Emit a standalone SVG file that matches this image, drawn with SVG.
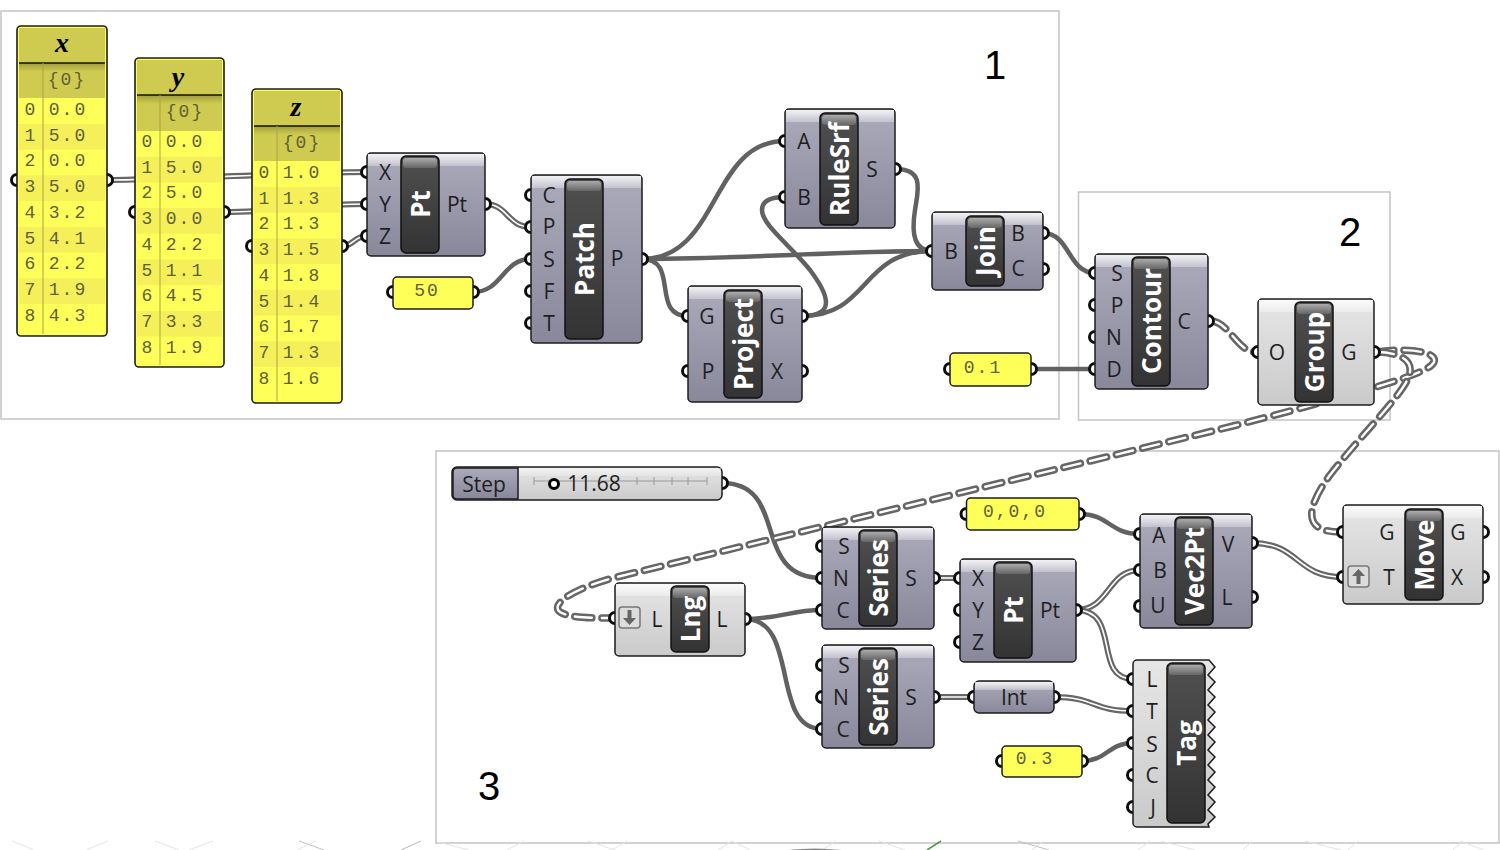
<svg xmlns="http://www.w3.org/2000/svg" width="1500" height="850" viewBox="0 0 1500 850">
<style>
text{font-family:"Open Sans","Liberation Sans",sans-serif;dominant-baseline:central;text-anchor:middle}
.frame{fill:none;stroke:#c4c4c4;stroke-width:1.5}
.bg{stroke:#e4e4e4;stroke-width:1;fill:none}
.big{font-family:"Liberation Sans",sans-serif;font-size:40px;fill:#000}
.body{fill:url(#gBody);stroke:#1c1c1c;stroke-width:1.5}
.light{fill:url(#gLight);stroke:#1c1c1c;stroke-width:1.5}
.cap{fill:url(#gCap);stroke:#111;stroke-width:1.5}
.hl{fill:url(#gHl)}
.caphl{fill:url(#gCapHl)}
.p{fill:#fff;stroke:#0c0c0c;stroke-width:3}
.l{font-size:21px;fill:#1e1e22}
.t{font-size:26px;font-weight:700;fill:#fff}
.num{fill:#ffff5a;stroke:#1c1c1c;stroke-width:1.5}
.m{font-family:"Liberation Mono",monospace;font-size:18px;letter-spacing:2px;fill:#60603a;transform:translateY(1px)}
.tb{fill:#ffff5a;stroke:#1c1c1c;stroke-width:1.6}
.hd{fill:#cfcb50}
.band{fill:url(#gBand)}
.st{fill:#f5f05a}
.dv{stroke:#a8a640;stroke-width:1}
.hr{stroke:#111;stroke-width:1.6}
.ti{font-family:"Liberation Serif",serif;font-weight:700;font-style:italic;font-size:28px;fill:#000;transform:translateY(-2px)}
.w{fill:none;stroke:#616161;stroke-width:4.5;stroke-linecap:round}
.d1{fill:none;stroke:#666;stroke-width:6}
.d2{fill:none;stroke:#fff;stroke-width:1.6}
.a1{fill:none;stroke:#666;stroke-width:7.5;stroke-linecap:round;stroke-dasharray:17 10}
.a2{fill:none;stroke:#fff;stroke-width:2.4;stroke-linecap:round;stroke-dasharray:17 10}
.ic{fill:#dcdcdc;stroke:#777;stroke-width:1.5}
.ar{fill:#666}
</style>
<defs>
<linearGradient id="gBody" x1="0" y1="0" x2="0" y2="1"><stop offset="0" stop-color="#acabbc"/><stop offset="1" stop-color="#88889a"/></linearGradient>
<linearGradient id="gLight" x1="0" y1="0" x2="0" y2="1"><stop offset="0" stop-color="#e6e6e6"/><stop offset="1" stop-color="#cacaca"/></linearGradient>
<linearGradient id="gCap" x1="0" y1="0" x2="0" y2="1"><stop offset="0" stop-color="#505050"/><stop offset="1" stop-color="#333"/></linearGradient>
<linearGradient id="gHl" x1="0" y1="0" x2="0" y2="1"><stop offset="0" stop-color="#fff" stop-opacity=".85"/><stop offset="1" stop-color="#fff" stop-opacity=".3"/></linearGradient>
<linearGradient id="gCapHl" x1="0" y1="0" x2="0" y2="1"><stop offset="0" stop-color="#aaa"/><stop offset="1" stop-color="#666"/></linearGradient>
<linearGradient id="gBand" x1="0" y1="0" x2="0" y2="1"><stop offset="0" stop-color="#a09d3c"/><stop offset=".25" stop-color="#cfcb50"/><stop offset="1" stop-color="#cfcb50"/></linearGradient>
</defs>

<g id="frames">
<rect class="frame" x="1" y="11" width="1058" height="408"/>
<rect class="frame" x="1078.500" y="192" width="311.500" height="228"/>
<rect class="frame" x="436" y="451" width="1063" height="392"/>
<text class="big" x="995" y="65">1</text>
<text class="big" x="1350" y="232">2</text>
<text class="big" x="489" y="786">3</text>
<path class="bg" d="M12 841L34 850M86 850L108 841M155 841L179 850M189 850L213 841M297 850L316 841M401 850L421 841M438 842L469 850M507 850L524 841M588 841L615 850M612 850L627 841M718 850L732 841M732 841L750 850M822 850L836 841M879 841L905 850M1032 850L1044 841M1138 850L1150 841M1161 841L1195 850M1243 850L1252 841M1305 841L1341 850M1348 850L1358 841M1453 850L1463 841M1460 841L1484 850"/>
<path d="M299 841L324 850M1018 841L1049 850M401 850L421 841" fill="none" stroke="#c0c0c0"/>
<path d="M927 850L941 841" fill="none" stroke="#4a9a4a" stroke-width="1.5"/>
<path d="M788 850Q815 847 841 850Z" fill="#8a8a8a"/>
</g>

<g id="connectors">
<g>
<path class="d1" d="M107 180C170 180 300 172 367 172"/><path class="d2" d="M107 180C170 180 300 172 367 172"/>
<path class="d1" d="M224 212C280 212 310 204 367 204"/><path class="d2" d="M224 212C280 212 310 204 367 204"/>
<path class="d1" d="M342 246C354 246 354 236 367 236"/><path class="d2" d="M342 246C354 246 354 236 367 236"/>
<path class="d1" d="M485 204C508 204 507 227 531 227"/><path class="d2" d="M485 204C508 204 507 227 531 227"/>
<path class="d1" d="M934 578H960"/><path class="d2" d="M934 578H960"/>
<path class="d1" d="M934 697H974"/><path class="d2" d="M934 697H974"/>
<path class="d1" d="M1054 697C1095 697 1092 711 1133 711"/><path class="d2" d="M1054 697C1095 697 1092 711 1133 711"/>
<path class="d1" d="M1076 610C1110 610 1107 570 1140 570"/><path class="d2" d="M1076 610C1110 610 1107 570 1140 570"/>
<path class="d1" d="M1076 610C1122 610 1092 679 1133 679"/><path class="d2" d="M1076 610C1122 610 1092 679 1133 679"/>
<path class="d1" d="M1252 543C1300 543 1295 577 1343 577"/><path class="d2" d="M1252 543C1300 543 1295 577 1343 577"/>
</g>
<g>
<path class="w" d="M473 292C503 292 502 259 531 259"/>
<path class="w" d="M642 259C720 259 710 141 785 141"/>
<path class="w" d="M642 259C740 259 840 251 932 251"/>
<path class="w" d="M642 259C680 259 650 316 688 316"/>
<path class="w" d="M802 316C870 316 860 251 932 251"/>
<path class="w" d="M802 316C840 316 825 290 810 270C790 245 762 225 762 210C762 200 772 197 785 197"/>
<path class="w" d="M895 169C925 169 918 190 915 210C911 235 915 251 932 251"/>
<path class="w" d="M1043 233C1070 233 1068 273 1095 273"/>
<path class="w" d="M1031 369H1095"/>
<path class="w" d="M745 619C780 619 790 610 822 610"/>
<path class="w" d="M745 619C800 619 770 729 822 729"/>
<path class="w" d="M722 483C790 483 750 578 822 578"/>
<path class="w" d="M1079 514C1110 514 1109 534 1140 534"/>
<path class="w" d="M1082 761C1107 761 1108 743 1133 743"/>
</g>
<g>
<path class="a1" d="M1211 321C1228 321 1238 352 1255 352"/><path class="a2" d="M1211 321C1228 321 1238 352 1255 352"/>
<path class="a1" d="M1377 352C1400 348 1438 350 1434 362C1430 372 1390 385 1237 425L613 578C570 590 550 605 560 612C570 618 590 618 612 618"/>
<path class="a2" d="M1377 352C1400 348 1438 350 1434 362C1430 372 1390 385 1237 425L613 578C570 590 550 605 560 612C570 618 590 618 612 618"/>
<path class="a1" d="M1377 352C1395 352 1412 358 1410 372C1408 390 1365 430 1330 475C1308 505 1300 532 1340 532"/>
<path class="a2" d="M1377 352C1395 352 1412 358 1410 372C1408 390 1365 430 1330 475C1308 505 1300 532 1340 532"/>
</g>
</g>

<g id="table-x">
<circle class="p" cx="17" cy="180" r="5.500"/><circle class="p" cx="107" cy="180" r="5.500"/>
<rect class="tb" x="17" y="26" width="90" height="310" rx="4"/>
<rect class="hd" x="19" y="28" width="86" height="35"/>
<rect class="band" x="19" y="63" width="86" height="35"/>
<rect class="st" x="19" y="124" width="86" height="25.700"/><rect class="st" x="19" y="175.400" width="86" height="25.700"/><rect class="st" x="19" y="226.800" width="86" height="25.700"/><rect class="st" x="19" y="278.200" width="86" height="25.700"/>
<line class="hr" x1="19" y1="63" x2="105" y2="63"/><line class="dv" x1="43" y1="63" x2="43" y2="334"/>
<text class="ti" x="62" y="44">x</text>
<text class="m" x="67" y="79">{0}</text>
<g><text class="m" x="31" y="109">0</text><text class="m" x="68" y="109">0.0</text><text class="m" x="31" y="135">1</text><text class="m" x="68" y="135">5.0</text><text class="m" x="31" y="160">2</text><text class="m" x="68" y="160">0.0</text><text class="m" x="31" y="186">3</text><text class="m" x="68" y="186">5.0</text><text class="m" x="31" y="212">4</text><text class="m" x="68" y="212">3.2</text><text class="m" x="31" y="238">5</text><text class="m" x="68" y="238">4.1</text><text class="m" x="31" y="263">6</text><text class="m" x="68" y="263">2.2</text><text class="m" x="31" y="289">7</text><text class="m" x="68" y="289">1.9</text><text class="m" x="31" y="315">8</text><text class="m" x="68" y="315">4.3</text></g>
</g>

<g id="table-y">
<circle class="p" cx="135" cy="212" r="5.500"/><circle class="p" cx="224" cy="212" r="5.500"/>
<rect class="tb" x="135" y="58" width="89" height="309" rx="4"/>
<rect class="hd" x="137" y="60" width="85" height="35"/>
<rect class="band" x="137" y="95" width="85" height="36"/>
<rect class="st" x="137" y="156.700" width="85" height="25.700"/><rect class="st" x="137" y="208.100" width="85" height="25.700"/><rect class="st" x="137" y="259.500" width="85" height="25.700"/><rect class="st" x="137" y="310.900" width="85" height="25.700"/>
<line class="hr" x1="137" y1="95" x2="222" y2="95"/><line class="dv" x1="160" y1="95" x2="160" y2="365"/>
<text class="ti" x="178" y="78">y</text>
<text class="m" x="185" y="111">{0}</text>
<g><text class="m" x="148" y="141">0</text><text class="m" x="185" y="141">0.0</text><text class="m" x="148" y="167">1</text><text class="m" x="185" y="167">5.0</text><text class="m" x="148" y="192">2</text><text class="m" x="185" y="192">5.0</text><text class="m" x="148" y="218">3</text><text class="m" x="185" y="218">0.0</text><text class="m" x="148" y="244">4</text><text class="m" x="185" y="244">2.2</text><text class="m" x="148" y="270">5</text><text class="m" x="185" y="270">1.1</text><text class="m" x="148" y="295">6</text><text class="m" x="185" y="295">4.5</text><text class="m" x="148" y="321">7</text><text class="m" x="185" y="321">3.3</text><text class="m" x="148" y="347">8</text><text class="m" x="185" y="347">1.9</text></g>
</g>

<g id="table-z">
<circle class="p" cx="252" cy="246" r="5.500"/><circle class="p" cx="342" cy="246" r="5.500"/>
<rect class="tb" x="252" y="89" width="90" height="314" rx="4"/>
<rect class="hd" x="254" y="91" width="86" height="35"/>
<rect class="band" x="254" y="126" width="86" height="35"/>
<rect class="st" x="254" y="187" width="86" height="25.700"/><rect class="st" x="254" y="238.400" width="86" height="25.700"/><rect class="st" x="254" y="289.800" width="86" height="25.700"/><rect class="st" x="254" y="341.200" width="86" height="25.700"/>
<line class="hr" x1="254" y1="126" x2="340" y2="126"/><line class="dv" x1="277" y1="126" x2="277" y2="401"/>
<text class="ti" x="296" y="108">z</text>
<text class="m" x="302" y="142">{0}</text>
<g><text class="m" x="265" y="172">0</text><text class="m" x="302" y="172">1.0</text><text class="m" x="265" y="198">1</text><text class="m" x="302" y="198">1.3</text><text class="m" x="265" y="223">2</text><text class="m" x="302" y="223">1.3</text><text class="m" x="265" y="249">3</text><text class="m" x="302" y="249">1.5</text><text class="m" x="265" y="275">4</text><text class="m" x="302" y="275">1.8</text><text class="m" x="265" y="301">5</text><text class="m" x="302" y="301">1.4</text><text class="m" x="265" y="326">6</text><text class="m" x="302" y="326">1.7</text><text class="m" x="265" y="352">7</text><text class="m" x="302" y="352">1.3</text><text class="m" x="265" y="378">8</text><text class="m" x="302" y="378">1.6</text></g>
</g>

<g id="pt1">
<circle class="p" cx="367" cy="172" r="5.500"/><circle class="p" cx="367" cy="204" r="5.500"/><circle class="p" cx="367" cy="236" r="5.500"/><circle class="p" cx="485" cy="204" r="5.500"/>
<rect class="body" x="367" y="153" width="118" height="103" rx="4"/><rect class="hl" x="368" y="154" width="116" height="12"/>
<rect class="cap" x="401" y="156" width="38" height="97" rx="5"/><rect class="caphl" x="403" y="158" width="34" height="10" rx="3"/>
<text class="t" transform="rotate(-90 420 204)" x="420" y="204">Pt</text>
<text class="l" x="385" y="172">X</text><text class="l" x="385" y="204">Y</text><text class="l" x="385" y="236">Z</text><text class="l" x="457" y="204">Pt</text>
</g>

<g id="patch">
<circle class="p" cx="531" cy="195" r="5.500"/><circle class="p" cx="531" cy="227" r="5.500"/><circle class="p" cx="531" cy="259" r="5.500"/><circle class="p" cx="531" cy="291" r="5.500"/><circle class="p" cx="531" cy="323" r="5.500"/><circle class="p" cx="642" cy="259" r="5.500"/>
<rect class="body" x="531" y="175" width="111" height="168" rx="4"/><rect class="hl" x="532" y="176" width="109" height="12"/>
<rect class="cap" x="565" y="179" width="38" height="160" rx="5"/><rect class="caphl" x="567" y="181" width="34" height="10" rx="3"/>
<text class="t" transform="rotate(-90 584 259)" x="584" y="259">Patch</text>
<text class="l" x="549" y="195">C</text><text class="l" x="549" y="226">P</text><text class="l" x="549" y="259">S</text><text class="l" x="549" y="291">F</text><text class="l" x="549" y="323">T</text><text class="l" x="617" y="258">P</text>
</g>

<g id="num-50">
<circle class="p" cx="393" cy="292" r="5.500"/><circle class="p" cx="473" cy="292" r="5.500"/>
<rect class="num" x="393" y="277" width="80" height="32" rx="4"/>
<text class="m" x="427" y="290">50</text>
</g>

<g id="project">
<circle class="p" cx="688" cy="316" r="5.500"/><circle class="p" cx="688" cy="371" r="5.500"/><circle class="p" cx="802" cy="316" r="5.500"/><circle class="p" cx="802" cy="371" r="5.500"/>
<rect class="body" x="688" y="286" width="114" height="116" rx="4"/><rect class="hl" x="689" y="287" width="112" height="12"/>
<rect class="cap" x="724" y="290" width="38" height="108" rx="5"/><rect class="caphl" x="726" y="292" width="34" height="10" rx="3"/>
<text class="t" transform="rotate(-90 743 344)" x="743" y="344">Project</text>
<text class="l" x="707" y="316">G</text><text class="l" x="708" y="371">P</text><text class="l" x="777" y="316">G</text><text class="l" x="777" y="371">X</text>
</g>

<g id="rulesrf">
<circle class="p" cx="785" cy="141" r="5.500"/><circle class="p" cx="785" cy="197" r="5.500"/><circle class="p" cx="895" cy="169" r="5.500"/>
<rect class="body" x="785" y="109" width="110" height="119" rx="4"/><rect class="hl" x="786" y="110" width="108" height="12"/>
<rect class="cap" x="820" y="113" width="38" height="112" rx="5"/><rect class="caphl" x="822" y="115" width="34" height="10" rx="3"/>
<text class="t" transform="rotate(-90 839 169)" x="839" y="169">RuleSrf</text>
<text class="l" x="804" y="141">A</text><text class="l" x="804" y="197">B</text><text class="l" x="872" y="169">S</text>
</g>

<g id="join">
<circle class="p" cx="932" cy="251" r="5.500"/><circle class="p" cx="1043" cy="233" r="5.500"/><circle class="p" cx="1043" cy="269" r="5.500"/>
<rect class="body" x="932" y="212" width="111" height="78" rx="4"/><rect class="hl" x="933" y="213" width="109" height="12"/>
<rect class="cap" x="966" y="216" width="38" height="70" rx="5"/><rect class="caphl" x="968" y="218" width="34" height="10" rx="3"/>
<text class="t" transform="rotate(-90 985 251)" x="985" y="251">Join</text>
<text class="l" x="951" y="251">B</text><text class="l" x="1018" y="233">B</text><text class="l" x="1018" y="268">C</text>
</g>

<g id="contour">
<circle class="p" cx="1095" cy="273" r="5.500"/><circle class="p" cx="1095" cy="305" r="5.500"/><circle class="p" cx="1095" cy="337" r="5.500"/><circle class="p" cx="1095" cy="369" r="5.500"/><circle class="p" cx="1208" cy="321" r="5.500"/>
<rect class="body" x="1095" y="254" width="113" height="135" rx="4"/><rect class="hl" x="1096" y="255" width="111" height="12"/>
<rect class="cap" x="1132" y="257" width="38" height="129" rx="5"/><rect class="caphl" x="1134" y="259" width="34" height="10" rx="3"/>
<text class="t" transform="rotate(-90 1151 321)" x="1151" y="321">Contour</text>
<text class="l" x="1117" y="273">S</text><text class="l" x="1117" y="305">P</text><text class="l" x="1114" y="337">N</text><text class="l" x="1114" y="369">D</text><text class="l" x="1184" y="321">C</text>
</g>

<g id="group">
<circle class="p" cx="1258" cy="352" r="5.500"/><circle class="p" cx="1374" cy="352" r="5.500"/>
<rect class="light" x="1258" y="299" width="116" height="106" rx="4"/><rect class="hl" x="1259" y="300" width="114" height="12"/>
<rect class="cap" x="1295" y="302" width="38" height="100" rx="5"/><rect class="caphl" x="1297" y="304" width="34" height="10" rx="3"/>
<text class="t" transform="rotate(-90 1314 352)" x="1314" y="352">Group</text>
<text class="l" x="1277" y="352">O</text><text class="l" x="1349" y="352">G</text>
</g>

<g id="num-01">
<circle class="p" cx="950" cy="369" r="5.500"/><circle class="p" cx="1031" cy="369" r="5.500"/>
<rect class="num" x="950" y="353" width="81" height="33" rx="4"/>
<text class="m" x="983" y="367">0.1</text>
</g>

<g id="step">
<circle class="p" cx="722" cy="483" r="5.500"/>
<rect class="light" x="452" y="467" width="270" height="33" rx="5"/>
<path d="M518 468H457a4 4 0 0 0-4 4V495a4 4 0 0 0 4 4H518Z" fill="url(#gBody)" stroke="#1c1c1c" stroke-width="1.500"/>
<rect class="hl" x="519" y="468" width="202" height="8" opacity=".6"/>
<path d="M534 481H707M534 477V485M637 477V485M654 477V485M672 477V485M688 477V485M707 477V485" stroke="#999" stroke-width="1" fill="none"/>
<text class="l" x="484" y="484">Step</text>
<circle cx="554" cy="484" r="4.500" fill="#fff" stroke="#000" stroke-width="3"/>
<text class="l" x="594" y="483">11.68</text>
</g>

<g id="lng">
<circle class="p" cx="615" cy="618" r="5.500"/><circle class="p" cx="745" cy="619" r="5.500"/>
<rect class="light" x="615" y="583" width="130" height="73" rx="4"/><rect class="hl" x="616" y="584" width="128" height="12"/>
<rect class="cap" x="671" y="586" width="38" height="66" rx="5"/><rect class="caphl" x="673" y="588" width="34" height="10" rx="3"/>
<text class="t" transform="rotate(-90 690 619)" x="690" y="619">Lng</text>
<rect class="ic" x="619" y="607" width="21" height="21" rx="3"/><path class="ar" d="M627.500 610H631.500V618H636L629.500 625L623 618H627.500Z"/>
<text class="l" x="657" y="619">L</text><text class="l" x="722" y="619">L</text>
</g>

<g id="series1">
<circle class="p" cx="822" cy="546" r="5.500"/><circle class="p" cx="822" cy="578" r="5.500"/><circle class="p" cx="822" cy="610" r="5.500"/><circle class="p" cx="934" cy="578" r="5.500"/>
<rect class="body" x="822" y="527" width="112" height="102" rx="4"/><rect class="hl" x="823" y="528" width="110" height="12"/>
<rect class="cap" x="859" y="530" width="38" height="96" rx="5"/><rect class="caphl" x="861" y="532" width="34" height="10" rx="3"/>
<text class="t" transform="rotate(-90 878 578)" x="878" y="578">Series</text>
<text class="l" x="844" y="546">S</text><text class="l" x="841" y="578">N</text><text class="l" x="843" y="610">C</text><text class="l" x="911" y="578">S</text>
</g>

<g id="series2">
<circle class="p" cx="822" cy="665" r="5.500"/><circle class="p" cx="822" cy="697" r="5.500"/><circle class="p" cx="822" cy="729" r="5.500"/><circle class="p" cx="934" cy="697" r="5.500"/>
<rect class="body" x="822" y="645" width="112" height="103" rx="4"/><rect class="hl" x="823" y="646" width="110" height="12"/>
<rect class="cap" x="859" y="648" width="38" height="97" rx="5"/><rect class="caphl" x="861" y="650" width="34" height="10" rx="3"/>
<text class="t" transform="rotate(-90 878 697)" x="878" y="697">Series</text>
<text class="l" x="844" y="665">S</text><text class="l" x="841" y="697">N</text><text class="l" x="843" y="729">C</text><text class="l" x="911" y="697">S</text>
</g>

<g id="num-000">
<circle class="p" cx="966.500" cy="514" r="5.500"/><circle class="p" cx="1079" cy="514" r="5.500"/>
<rect class="num" x="966.500" y="498" width="112.500" height="32" rx="4"/>
<text class="m" x="1015" y="511">0,0,0</text>
</g>

<g id="pt2">
<circle class="p" cx="960" cy="578" r="5.500"/><circle class="p" cx="960" cy="610" r="5.500"/><circle class="p" cx="960" cy="642" r="5.500"/><circle class="p" cx="1076" cy="610" r="5.500"/>
<rect class="body" x="960" y="559" width="116" height="103" rx="4"/><rect class="hl" x="961" y="560" width="114" height="12"/>
<rect class="cap" x="994" y="562" width="38" height="96" rx="5"/><rect class="caphl" x="996" y="564" width="34" height="10" rx="3"/>
<text class="t" transform="rotate(-90 1013 610)" x="1013" y="610">Pt</text>
<text class="l" x="978" y="578">X</text><text class="l" x="978" y="610">Y</text><text class="l" x="978" y="642">Z</text><text class="l" x="1050" y="610">Pt</text>
</g>

<g id="vec2pt">
<circle class="p" cx="1140" cy="534" r="5.500"/><circle class="p" cx="1140" cy="570" r="5.500"/><circle class="p" cx="1140" cy="606" r="5.500"/><circle class="p" cx="1252" cy="543" r="5.500"/><circle class="p" cx="1252" cy="597" r="5.500"/>
<rect class="body" x="1140" y="514" width="112" height="114" rx="4"/><rect class="hl" x="1141" y="515" width="110" height="12"/>
<rect class="cap" x="1175" y="517" width="38" height="108" rx="5"/><rect class="caphl" x="1177" y="519" width="34" height="10" rx="3"/>
<text class="t" transform="rotate(-90 1194 571)" x="1194" y="571">Vec2Pt</text>
<text class="l" x="1159" y="535">A</text><text class="l" x="1160" y="570">B</text><text class="l" x="1158" y="605">U</text><text class="l" x="1228" y="544">V</text><text class="l" x="1227" y="597">L</text>
</g>

<g id="move">
<circle class="p" cx="1343" cy="532" r="5.500"/><circle class="p" cx="1343" cy="577" r="5.500"/><circle class="p" cx="1483" cy="532" r="5.500"/><circle class="p" cx="1483" cy="577" r="5.500"/>
<rect class="light" x="1343" y="505" width="140" height="99" rx="4"/><rect class="hl" x="1344" y="506" width="138" height="12"/>
<rect class="cap" x="1405" y="509" width="38" height="91" rx="5"/><rect class="caphl" x="1407" y="511" width="34" height="10" rx="3"/>
<text class="t" transform="rotate(-90 1424 555)" x="1424" y="555">Move</text>
<rect class="ic" x="1348" y="566" width="21" height="21" rx="3"/><path class="ar" d="M1356.500 584H1360.500V576H1365L1358.500 569L1352 576H1356.500Z"/>
<text class="l" x="1387" y="532">G</text><text class="l" x="1389" y="577">T</text><text class="l" x="1458" y="532">G</text><text class="l" x="1457" y="577">X</text>
</g>

<g id="int">
<circle class="p" cx="974" cy="697" r="5.500"/><circle class="p" cx="1054" cy="697" r="5.500"/>
<rect class="body" x="974" y="681" width="80" height="32" rx="5"/><rect class="hl" x="975" y="682" width="78" height="8"/>
<text class="l" x="1014" y="697">Int</text>
</g>

<g id="num-03">
<circle class="p" cx="1002" cy="761" r="5.500"/><circle class="p" cx="1082" cy="761" r="5.500"/>
<rect class="num" x="1002" y="746" width="80" height="31" rx="4"/>
<text class="m" x="1035" y="758">0.3</text>
</g>

<g id="tag">
<circle class="p" cx="1133" cy="679" r="5.500"/><circle class="p" cx="1133" cy="711" r="5.500"/><circle class="p" cx="1133" cy="743" r="5.500"/><circle class="p" cx="1133" cy="775" r="5.500"/><circle class="p" cx="1133" cy="807" r="5.500"/>
<path class="light" d="M1137 660H1209L1215 667L1208 675L1215 682L1208 690L1215 697L1208 705L1215 712L1208 720L1215 727L1208 735L1215 742L1208 750L1215 757L1208 765L1215 772L1208 780L1215 787L1208 795L1215 802L1208 810L1215 817L1208 824L1209 827H1137a4 4 0 0 1-4-4V664a4 4 0 0 1 4-4Z"/>
<rect class="cap" x="1167" y="663" width="38" height="160" rx="5"/><rect class="caphl" x="1169" y="665" width="34" height="10" rx="3"/>
<text class="t" transform="rotate(-90 1186 743)" x="1186" y="743">Tag</text>
<text class="l" x="1152" y="679">L</text><text class="l" x="1152" y="711">T</text><text class="l" x="1152" y="744">S</text><text class="l" x="1152" y="775">C</text><text class="l" x="1153" y="807">J</text>
</g>
</svg>
